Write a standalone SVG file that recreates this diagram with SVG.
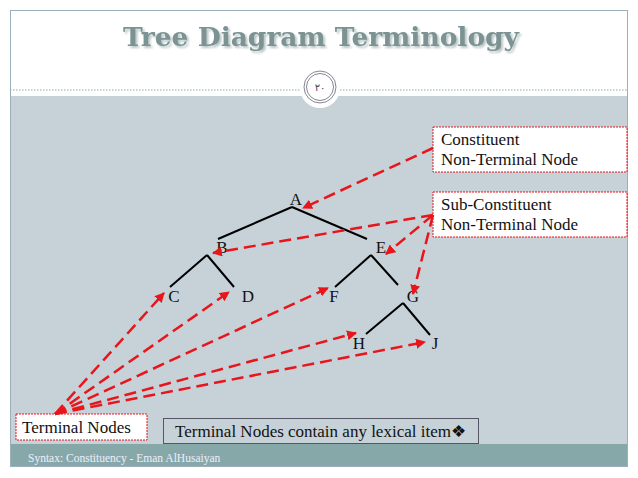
<svg xmlns="http://www.w3.org/2000/svg" width="638" height="478" viewBox="0 0 638 478">
<style>
.t{font-family:"Liberation Serif","DejaVu Serif",serif;font-size:17px;fill:#111}
.tr{stroke:#000;stroke-width:2;fill:none}
.ar{stroke:#e8151b;stroke-width:2.5;stroke-dasharray:12 6;fill:none}
.lb{fill:#fff;stroke:#e8151b;stroke-width:1;stroke-dasharray:2 1}
</style>
<defs>
<marker id="ah" viewBox="0 0 10 10" refX="9" refY="5" markerWidth="4" markerHeight="4" orient="auto"><path d="M0,0L10,5L0,10z" fill="#e8151b"/></marker>
<filter id="sh" x="-5%" y="-20%" width="110%" height="150%"><feDropShadow dx="2" dy="2" stdDeviation="0.8" flood-color="#b8c4c4"/></filter>
</defs>
<rect width="638" height="478" fill="#fff"/>
<rect x="10" y="96" width="618" height="349" fill="#c6d1d8"/>
<rect x="10" y="444" width="618" height="23" fill="#87a8a8"/>
<rect x="10.5" y="10.5" width="617" height="456" fill="none" stroke="#9bb0b8"/>
<line x1="10" y1="90" x2="628" y2="90" stroke="#8aa" stroke-dasharray="1.5 1.5"/>
<circle cx="320" cy="88" r="20" fill="#fff"/>
<circle cx="320" cy="87" r="16" fill="#fff" stroke="#667" stroke-width="0.8"/>
<circle cx="320" cy="87" r="13.5" fill="none" stroke="#667" stroke-width="0.8"/>
<text x="320" y="91" text-anchor="middle" font-family="'DejaVu Sans',sans-serif" font-size="10" fill="#445">٢٠</text>
<text x="321" y="46" text-anchor="middle" font-family="'DejaVu Serif',serif" font-weight="bold" font-size="26.5" fill="#7b9293" filter="url(#sh)">Tree Diagram Terminology</text>
<text x="28" y="462" font-family="'Liberation Serif',serif" font-size="11.5" fill="#eef">Syntax: Constituency - Eman AlHusaiyan</text>
<g id="tree">
<path class="tr" d="M292,207L218,239M292,207L367,239M207,255L170,287M207,255L234,287M371,255L335,287M371,255L398,285M403,303L366,334M403,303L430,335"/>
</g>
<g id="nA"><text class="t" x="296" y="205" text-anchor="middle">A</text></g>
<g id="nB"><text class="t" x="222" y="253" text-anchor="middle">B</text></g>
<g id="nE"><text class="t" x="381" y="253" text-anchor="middle">E</text></g>
<g id="nC"><text class="t" x="174" y="302" text-anchor="middle">C</text></g>
<g id="nD"><text class="t" x="248" y="302" text-anchor="middle">D</text></g>
<g id="nF"><text class="t" x="334" y="302" text-anchor="middle">F</text></g>
<g id="nG"><text class="t" x="413" y="302" text-anchor="middle">G</text></g>
<g id="nH"><text class="t" x="359" y="349" text-anchor="middle">H</text></g>
<g id="nJ"><text class="t" x="435" y="349" text-anchor="middle">J</text></g>
<g id="constituent"><rect class="lb" x="433" y="127" width="194" height="45"/><text class="t" x="441" y="145">Constituent</text><text class="t" x="441" y="165">Non-Terminal Node</text></g>
<g id="sub"><rect class="lb" x="433" y="192" width="194" height="45"/><text class="t" x="441" y="210">Sub-Constituent</text><text class="t" x="441" y="230">Non-Terminal Node</text></g>
<g id="terminal"><rect class="lb" x="16" y="414" width="131" height="26"/><text class="t" x="22" y="433">Terminal Nodes</text></g>
<g id="note"><rect x="163.5" y="418.5" width="315" height="25" fill="#c6d1d8" stroke="#556"/><text class="t" x="175" y="437">Terminal Nodes contain any lexical item❖</text></g>
<g id="connectors" marker-end="url(#ah)">
<path class="ar" d="M433,148L303,208"/>
<path class="ar" d="M433,215L213,253"/>
<path class="ar" d="M433,215L386,254"/>
<path class="ar" d="M433,215L413,294"/>
<path class="ar" d="M55,414L164,293"/>
<path class="ar" d="M55,414L229,292"/>
<path class="ar" d="M55,414L328,288"/>
<path class="ar" d="M55,414L356,333"/>
<path class="ar" d="M55,414L425,342"/>
</g>
</svg>
